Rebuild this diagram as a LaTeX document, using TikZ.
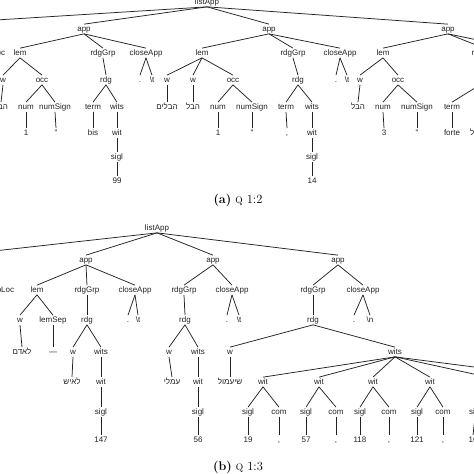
\documentclass[tikz,border=0pt]{standalone}
\usepackage{fontspec}
\newfontfamily\treefont{Liberation Sans}
\newfontfamily\hebfont[Script=Hebrew]{Liberation Sans}
\TeXXeTstate=1
\definecolor{ink}{HTML}{222222}

\begin{document}
\begin{tikzpicture}[x=1pt, y=-1pt,
  nd/.style={font=\treefont\fontsize{8}{9}\selectfont, text=ink, inner sep=1pt, text height=5.7pt, text depth=1.6pt},
  hb/.style={nd, font=\hebfont\fontsize{8}{9}\selectfont},
  br/.style={draw=ink, line width=0.75pt},
  capt/.style={font=\fontsize{12.5}{14}\selectfont, text=black, inner sep=0pt}]
\useasboundingbox (0,0) rectangle (474,474);
\clip (0,0) rectangle (474,474);
% (a) Q 1:2
\node[nd] (la) at (207,2) {listApp};
\coordinate (c0) at (-100,26); \coordinate (c3) at (540,53);
\node[nd] (ap1) at (84,29) {app};
\node[nd] (ap2) at (269,29) {app};
\node[nd] (ap3) at (448,29) {app};
\node[nd] (lc1) at (-8,53) {appLoc};
\node[nd] (lm1) at (20,53) {lem};
\node[nd] (rg1) at (103,53) {rdgGrp};
\node[nd] (ca1) at (146,53) {closeApp};
\node[nd] (lm2) at (202,53) {lem};
\node[nd] (rg2) at (293,53) {rdgGrp};
\node[nd] (ca2) at (340,53) {closeApp};
\node[nd] (lm3) at (383,53) {lem};
\node[nd] (rg3) at (484,53) {rdgGrp};
\node[nd] (w1) at (3,80) {w};
\node[nd] (oc1) at (42,80) {occ};
\node[nd] (rd1) at (106,80) {rdg};
\node[nd] (d1) at (140,80) {.};
\node[nd] (t1) at (152,80) {\textbackslash t};
\node[nd] (w2a) at (167,80) {w};
\node[nd] (w2b) at (193,80) {w};
\node[nd] (oc2) at (233,80) {occ};
\node[nd] (rd2) at (298,80) {rdg};
\node[nd] (d2) at (336,80) {.};
\node[nd] (t2) at (347,80) {\textbackslash t};
\node[nd] (w3) at (360,80) {w};
\node[nd] (oc3) at (398,80) {occ};
\node[nd] (rd3) at (480,80) {rdg};
\node[hb] (hb1) at (1,107) {\beginR הבל\endR};
\node[nd] (nm1) at (26,107) {num};
\node[nd] (ns1) at (55,107) {numSign};
\node[nd] (tm1) at (93,107) {term};
\node[nd] (ws1) at (117,107) {wits};
\node[hb] (hb2a) at (167,107) {\beginR הבלים\endR};
\node[hb] (hb2b) at (193,107) {\beginR הבל\endR};
\node[nd] (nm2) at (218,107) {num};
\node[nd] (ns2) at (252,107) {numSign};
\node[nd] (tm2) at (286,107) {term};
\node[nd] (ws2) at (312,107) {wits};
\node[hb] (hb3) at (358,107) {\beginR הבל\endR};
\node[nd] (nm3) at (383,107) {num};
\node[nd] (ns3) at (417,107) {numSign};
\node[nd] (tm3) at (452,107) {term};
\node[nd] (w3b) at (480,107) {w};
\node[nd] (v1) at (26,133) {1};
\node[nd] (q1) at (56,133) {"};
\node[nd] (bis) at (93,133) {bis};
\node[nd] (wt1) at (117,133) {wit};
\node[nd] (v2) at (218,133) {1};
\node[nd] (q2) at (252,133) {"};
\node[nd] (cm2) at (287,133) {,};
\node[nd] (wt2) at (312,133) {wit};
\node[nd] (v3) at (384,133) {3};
\node[nd] (q3) at (417,133) {"};
\node[nd] (forte) at (452,133) {forte};
\node[hb] (hb3b) at (477,133) {\beginR הבל\endR};
\node[nd] (sg1) at (117,157) {sigl};
\node[nd] (sg2) at (312,157) {sigl};
\node[nd] (n99) at (117,181) {99};
\node[nd] (n14) at (312,181) {14};
\draw[br] (la.south) -- (c0); \draw[br] (ap3.south) -- (c3);
\foreach \p/\c in {la/ap1,la/ap2,la/ap3,ap1/lm1,ap1/rg1,ap1/ca1,ap2/lm2,ap2/rg2,ap2/ca2,ap3/lm3,ap3/rg3,
  lm1/w1,lm1/oc1,w1/hb1,oc1/nm1,oc1/ns1,nm1/v1,ns1/q1,rg1/rd1,rd1/tm1,rd1/ws1,tm1/bis,ws1/wt1,wt1/sg1,sg1/n99,ca1/d1,ca1/t1,
  lm2/w2a,lm2/w2b,lm2/oc2,w2a/hb2a,w2b/hb2b,oc2/nm2,oc2/ns2,nm2/v2,ns2/q2,rg2/rd2,rd2/tm2,rd2/ws2,tm2/cm2,ws2/wt2,wt2/sg2,sg2/n14,ca2/d2,ca2/t2,
  lm3/w3,lm3/oc3,w3/hb3,oc3/nm3,oc3/ns3,nm3/v3,ns3/q3,rg3/rd3,rd3/tm3,rd3/w3b,tm3/forte,w3b/hb3b}
  \draw[br] (\p.south) -- (\c.north);
\node[capt] (capa) at (238,200) {\textbf{(a)}\ {\fontsize{9.5}{11}\selectfont Q}~1:2};
% (b) Q 1:3
\node[nd] (LA) at (157,228) {listApp};
\coordinate (C0) at (-60,257);
\node[nd] (AP1) at (86,260) {app};
\node[nd] (AP2) at (213,260) {app};
\node[nd] (AP3) at (338,260) {app};
\node[nd] (LOC) at (1,290) {appLoc};
\node[nd] (LM) at (37,290) {lem};
\node[nd] (RG1) at (87,290) {rdgGrp};
\node[nd] (CA1) at (135,290) {closeApp};
\node[nd] (RG2) at (184,290) {rdgGrp};
\node[nd] (CA2) at (232,290) {closeApp};
\node[nd] (RG3) at (313,290) {rdgGrp};
\node[nd] (CA3) at (363,290) {closeApp};
\node[nd] (W1) at (20,320) {w};
\node[nd] (LS) at (53,320) {lemSep};
\node[nd] (RD1) at (87,320) {rdg};
\node[nd] (D1) at (128,320) {.};
\node[nd] (T1) at (138,320) {\textbackslash t};
\node[nd] (RD2) at (185,320) {rdg};
\node[nd] (D2) at (227,320) {.};
\node[nd] (T2) at (239,320) {\textbackslash t};
\node[nd] (RD3) at (313,320) {rdg};
\node[nd] (D3) at (354,320) {.};
\node[nd] (N3) at (370,320) {\textbackslash n};
\node[hb] (HA) at (22,352) {\beginR לאדם\endR};
\node[nd] (DS) at (53,352) {—};
\node[nd] (W2) at (73,352) {w};
\node[nd] (WS1) at (101,352) {wits};
\node[nd] (W3) at (169,352) {w};
\node[nd] (WS2) at (198,352) {wits};
\node[nd] (W4) at (230,352) {w};
\node[nd] (WS3) at (395,352) {wits};
\node[hb] (HB) at (72,382) {\beginR לאיש\endR};
\node[nd] (WT1) at (101,382) {wit};
\node[hb] (HC) at (172,382) {\beginR עמלי\endR};
\node[nd] (WT2) at (198,382) {wit};
\node[hb] (HD) at (230,382) {\beginR שיעמול\endR};
\node[nd] (X1) at (263,382) {wit};
\node[nd] (X2) at (319,382) {wit};
\node[nd] (X3) at (373,382) {wit};
\node[nd] (X4) at (430,382) {wit};
\node[nd] (X5) at (488,382) {wit};
\coordinate (X6) at (560,378);
\node[nd] (SG1) at (101,412) {sigl};
\node[nd] (SG2) at (198,412) {sigl};
\node[nd] (S1) at (248,412) {sigl};
\node[nd] (K1) at (279,412) {com};
\node[nd] (S2) at (306,412) {sigl};
\node[nd] (K2) at (336,412) {com};
\node[nd] (S3) at (360,412) {sigl};
\node[nd] (K3) at (389,412) {com};
\node[nd] (S4) at (417,412) {sigl};
\node[nd] (K4) at (443,412) {com};
\node[nd] (S5) at (475,412) {sigl};
\node[nd] (n147) at (101,440) {147};
\node[nd] (n56) at (198,440) {56};
\node[nd] (n19) at (248,440) {19};
\node[nd] (P1) at (279,440) {,};
\node[nd] (n57) at (306,440) {57};
\node[nd] (P2) at (336,440) {,};
\node[nd] (n118) at (360,440) {118};
\node[nd] (P3) at (389,440) {,};
\node[nd] (n121) at (417,440) {121};
\node[nd] (P4) at (443,440) {,};
\node[nd] (n16) at (473,440) {16};
\draw[br] (LA.south) -- (C0); \draw[br] (WS3.south) -- (X6);
\foreach \p/\c in {LA/AP1,LA/AP2,LA/AP3,AP1/LM,AP1/RG1,AP1/CA1,AP2/RG2,AP2/CA2,AP3/RG3,AP3/CA3,
  LM/W1,LM/LS,W1/HA,LS/DS,RG1/RD1,RD1/W2,RD1/WS1,W2/HB,WS1/WT1,WT1/SG1,SG1/n147,CA1/D1,CA1/T1,
  RG2/RD2,RD2/W3,RD2/WS2,W3/HC,WS2/WT2,WT2/SG2,SG2/n56,CA2/D2,CA2/T2,
  RG3/RD3,RD3/W4,RD3/WS3,W4/HD,CA3/D3,CA3/N3,WS3/X1,WS3/X2,WS3/X3,WS3/X4,WS3/X5,
  X1/S1,X1/K1,X2/S2,X2/K2,X3/S3,X3/K3,X4/S4,X4/K4,X5/S5,
  S1/n19,K1/P1,S2/n57,K2/P2,S3/n118,K3/P3,S4/n121,K4/P4,S5/n16}
  \draw[br] (\p.south) -- (\c.north);
\node[capt] (capb) at (238,467) {\textbf{(b)}\ {\fontsize{9.5}{11}\selectfont Q}~1:3};
\end{tikzpicture}
\end{document}
